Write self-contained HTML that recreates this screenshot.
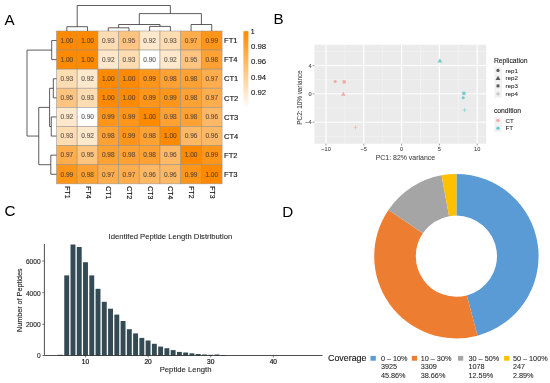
<!DOCTYPE html>
<html><head><meta charset="utf-8"><style>
html,body{margin:0;padding:0;background:#fff;}
svg{display:block;filter:blur(0.35px);font-family:"Liberation Sans", sans-serif;}
</style></head><body>
<svg width="550" height="383" viewBox="0 0 550 383">
<rect width="550" height="383" fill="#fff"/>
<rect x="56.50" y="31.00" width="20.70" height="19.10" fill="#ff8a00" stroke="#8c8c8c" stroke-width="0.8" stroke-opacity="0.6"/>
<rect x="77.20" y="31.00" width="20.70" height="19.10" fill="#ff8a00" stroke="#8c8c8c" stroke-width="0.8" stroke-opacity="0.6"/>
<rect x="97.90" y="31.00" width="20.70" height="19.10" fill="#ffdcb2" stroke="#8c8c8c" stroke-width="0.8" stroke-opacity="0.6"/>
<rect x="118.60" y="31.00" width="20.70" height="19.10" fill="#ffc580" stroke="#8c8c8c" stroke-width="0.8" stroke-opacity="0.6"/>
<rect x="139.30" y="31.00" width="20.70" height="19.10" fill="#ffe8cc" stroke="#8c8c8c" stroke-width="0.8" stroke-opacity="0.6"/>
<rect x="160.00" y="31.00" width="20.70" height="19.10" fill="#ffdcb2" stroke="#8c8c8c" stroke-width="0.8" stroke-opacity="0.6"/>
<rect x="180.70" y="31.00" width="20.70" height="19.10" fill="#ffad4d" stroke="#8c8c8c" stroke-width="0.8" stroke-opacity="0.6"/>
<rect x="201.40" y="31.00" width="20.70" height="19.10" fill="#ff961a" stroke="#8c8c8c" stroke-width="0.8" stroke-opacity="0.6"/>
<rect x="56.50" y="50.10" width="20.70" height="19.10" fill="#ff8a00" stroke="#8c8c8c" stroke-width="0.8" stroke-opacity="0.6"/>
<rect x="77.20" y="50.10" width="20.70" height="19.10" fill="#ff8a00" stroke="#8c8c8c" stroke-width="0.8" stroke-opacity="0.6"/>
<rect x="97.90" y="50.10" width="20.70" height="19.10" fill="#ffe8cc" stroke="#8c8c8c" stroke-width="0.8" stroke-opacity="0.6"/>
<rect x="118.60" y="50.10" width="20.70" height="19.10" fill="#ffdcb2" stroke="#8c8c8c" stroke-width="0.8" stroke-opacity="0.6"/>
<rect x="139.30" y="50.10" width="20.70" height="19.10" fill="#ffffff" stroke="#8c8c8c" stroke-width="0.8" stroke-opacity="0.6"/>
<rect x="160.00" y="50.10" width="20.70" height="19.10" fill="#ffe8cc" stroke="#8c8c8c" stroke-width="0.8" stroke-opacity="0.6"/>
<rect x="180.70" y="50.10" width="20.70" height="19.10" fill="#ffc580" stroke="#8c8c8c" stroke-width="0.8" stroke-opacity="0.6"/>
<rect x="201.40" y="50.10" width="20.70" height="19.10" fill="#ffa133" stroke="#8c8c8c" stroke-width="0.8" stroke-opacity="0.6"/>
<rect x="56.50" y="69.20" width="20.70" height="19.10" fill="#ffdcb2" stroke="#8c8c8c" stroke-width="0.8" stroke-opacity="0.6"/>
<rect x="77.20" y="69.20" width="20.70" height="19.10" fill="#ffe8cc" stroke="#8c8c8c" stroke-width="0.8" stroke-opacity="0.6"/>
<rect x="97.90" y="69.20" width="20.70" height="19.10" fill="#ff8a00" stroke="#8c8c8c" stroke-width="0.8" stroke-opacity="0.6"/>
<rect x="118.60" y="69.20" width="20.70" height="19.10" fill="#ff8a00" stroke="#8c8c8c" stroke-width="0.8" stroke-opacity="0.6"/>
<rect x="139.30" y="69.20" width="20.70" height="19.10" fill="#ff961a" stroke="#8c8c8c" stroke-width="0.8" stroke-opacity="0.6"/>
<rect x="160.00" y="69.20" width="20.70" height="19.10" fill="#ffa133" stroke="#8c8c8c" stroke-width="0.8" stroke-opacity="0.6"/>
<rect x="180.70" y="69.20" width="20.70" height="19.10" fill="#ffa133" stroke="#8c8c8c" stroke-width="0.8" stroke-opacity="0.6"/>
<rect x="201.40" y="69.20" width="20.70" height="19.10" fill="#ffad4d" stroke="#8c8c8c" stroke-width="0.8" stroke-opacity="0.6"/>
<rect x="56.50" y="88.30" width="20.70" height="19.10" fill="#ffc580" stroke="#8c8c8c" stroke-width="0.8" stroke-opacity="0.6"/>
<rect x="77.20" y="88.30" width="20.70" height="19.10" fill="#ffdcb2" stroke="#8c8c8c" stroke-width="0.8" stroke-opacity="0.6"/>
<rect x="97.90" y="88.30" width="20.70" height="19.10" fill="#ff8a00" stroke="#8c8c8c" stroke-width="0.8" stroke-opacity="0.6"/>
<rect x="118.60" y="88.30" width="20.70" height="19.10" fill="#ff8a00" stroke="#8c8c8c" stroke-width="0.8" stroke-opacity="0.6"/>
<rect x="139.30" y="88.30" width="20.70" height="19.10" fill="#ff961a" stroke="#8c8c8c" stroke-width="0.8" stroke-opacity="0.6"/>
<rect x="160.00" y="88.30" width="20.70" height="19.10" fill="#ff961a" stroke="#8c8c8c" stroke-width="0.8" stroke-opacity="0.6"/>
<rect x="180.70" y="88.30" width="20.70" height="19.10" fill="#ffa133" stroke="#8c8c8c" stroke-width="0.8" stroke-opacity="0.6"/>
<rect x="201.40" y="88.30" width="20.70" height="19.10" fill="#ffad4d" stroke="#8c8c8c" stroke-width="0.8" stroke-opacity="0.6"/>
<rect x="56.50" y="107.40" width="20.70" height="19.10" fill="#ffe8cc" stroke="#8c8c8c" stroke-width="0.8" stroke-opacity="0.6"/>
<rect x="77.20" y="107.40" width="20.70" height="19.10" fill="#ffffff" stroke="#8c8c8c" stroke-width="0.8" stroke-opacity="0.6"/>
<rect x="97.90" y="107.40" width="20.70" height="19.10" fill="#ff961a" stroke="#8c8c8c" stroke-width="0.8" stroke-opacity="0.6"/>
<rect x="118.60" y="107.40" width="20.70" height="19.10" fill="#ff961a" stroke="#8c8c8c" stroke-width="0.8" stroke-opacity="0.6"/>
<rect x="139.30" y="107.40" width="20.70" height="19.10" fill="#ff8a00" stroke="#8c8c8c" stroke-width="0.8" stroke-opacity="0.6"/>
<rect x="160.00" y="107.40" width="20.70" height="19.10" fill="#ffa133" stroke="#8c8c8c" stroke-width="0.8" stroke-opacity="0.6"/>
<rect x="180.70" y="107.40" width="20.70" height="19.10" fill="#ffa133" stroke="#8c8c8c" stroke-width="0.8" stroke-opacity="0.6"/>
<rect x="201.40" y="107.40" width="20.70" height="19.10" fill="#ffb966" stroke="#8c8c8c" stroke-width="0.8" stroke-opacity="0.6"/>
<rect x="56.50" y="126.50" width="20.70" height="19.10" fill="#ffdcb2" stroke="#8c8c8c" stroke-width="0.8" stroke-opacity="0.6"/>
<rect x="77.20" y="126.50" width="20.70" height="19.10" fill="#ffe8cc" stroke="#8c8c8c" stroke-width="0.8" stroke-opacity="0.6"/>
<rect x="97.90" y="126.50" width="20.70" height="19.10" fill="#ffa133" stroke="#8c8c8c" stroke-width="0.8" stroke-opacity="0.6"/>
<rect x="118.60" y="126.50" width="20.70" height="19.10" fill="#ff961a" stroke="#8c8c8c" stroke-width="0.8" stroke-opacity="0.6"/>
<rect x="139.30" y="126.50" width="20.70" height="19.10" fill="#ffa133" stroke="#8c8c8c" stroke-width="0.8" stroke-opacity="0.6"/>
<rect x="160.00" y="126.50" width="20.70" height="19.10" fill="#ff8a00" stroke="#8c8c8c" stroke-width="0.8" stroke-opacity="0.6"/>
<rect x="180.70" y="126.50" width="20.70" height="19.10" fill="#ffb966" stroke="#8c8c8c" stroke-width="0.8" stroke-opacity="0.6"/>
<rect x="201.40" y="126.50" width="20.70" height="19.10" fill="#ffb966" stroke="#8c8c8c" stroke-width="0.8" stroke-opacity="0.6"/>
<rect x="56.50" y="145.60" width="20.70" height="19.10" fill="#ffad4d" stroke="#8c8c8c" stroke-width="0.8" stroke-opacity="0.6"/>
<rect x="77.20" y="145.60" width="20.70" height="19.10" fill="#ffc580" stroke="#8c8c8c" stroke-width="0.8" stroke-opacity="0.6"/>
<rect x="97.90" y="145.60" width="20.70" height="19.10" fill="#ffa133" stroke="#8c8c8c" stroke-width="0.8" stroke-opacity="0.6"/>
<rect x="118.60" y="145.60" width="20.70" height="19.10" fill="#ffa133" stroke="#8c8c8c" stroke-width="0.8" stroke-opacity="0.6"/>
<rect x="139.30" y="145.60" width="20.70" height="19.10" fill="#ffa133" stroke="#8c8c8c" stroke-width="0.8" stroke-opacity="0.6"/>
<rect x="160.00" y="145.60" width="20.70" height="19.10" fill="#ffb966" stroke="#8c8c8c" stroke-width="0.8" stroke-opacity="0.6"/>
<rect x="180.70" y="145.60" width="20.70" height="19.10" fill="#ff8a00" stroke="#8c8c8c" stroke-width="0.8" stroke-opacity="0.6"/>
<rect x="201.40" y="145.60" width="20.70" height="19.10" fill="#ff961a" stroke="#8c8c8c" stroke-width="0.8" stroke-opacity="0.6"/>
<rect x="56.50" y="164.70" width="20.70" height="19.10" fill="#ff961a" stroke="#8c8c8c" stroke-width="0.8" stroke-opacity="0.6"/>
<rect x="77.20" y="164.70" width="20.70" height="19.10" fill="#ffa133" stroke="#8c8c8c" stroke-width="0.8" stroke-opacity="0.6"/>
<rect x="97.90" y="164.70" width="20.70" height="19.10" fill="#ffad4d" stroke="#8c8c8c" stroke-width="0.8" stroke-opacity="0.6"/>
<rect x="118.60" y="164.70" width="20.70" height="19.10" fill="#ffad4d" stroke="#8c8c8c" stroke-width="0.8" stroke-opacity="0.6"/>
<rect x="139.30" y="164.70" width="20.70" height="19.10" fill="#ffb966" stroke="#8c8c8c" stroke-width="0.8" stroke-opacity="0.6"/>
<rect x="160.00" y="164.70" width="20.70" height="19.10" fill="#ffb966" stroke="#8c8c8c" stroke-width="0.8" stroke-opacity="0.6"/>
<rect x="180.70" y="164.70" width="20.70" height="19.10" fill="#ff961a" stroke="#8c8c8c" stroke-width="0.8" stroke-opacity="0.6"/>
<rect x="201.40" y="164.70" width="20.70" height="19.10" fill="#ff8a00" stroke="#8c8c8c" stroke-width="0.8" stroke-opacity="0.6"/>
<text x="66.85" y="42.85" text-anchor="middle" font-size="6.5" fill="#333" fill-opacity="0.72" stroke="#333" stroke-opacity="0.72" stroke-width="0.15">1.00</text>
<text x="87.55" y="42.85" text-anchor="middle" font-size="6.5" fill="#333" fill-opacity="0.72" stroke="#333" stroke-opacity="0.72" stroke-width="0.15">1.00</text>
<text x="108.25" y="42.85" text-anchor="middle" font-size="6.5" fill="#333" fill-opacity="0.72" stroke="#333" stroke-opacity="0.72" stroke-width="0.15">0.93</text>
<text x="128.95" y="42.85" text-anchor="middle" font-size="6.5" fill="#333" fill-opacity="0.72" stroke="#333" stroke-opacity="0.72" stroke-width="0.15">0.95</text>
<text x="149.65" y="42.85" text-anchor="middle" font-size="6.5" fill="#333" fill-opacity="0.72" stroke="#333" stroke-opacity="0.72" stroke-width="0.15">0.92</text>
<text x="170.35" y="42.85" text-anchor="middle" font-size="6.5" fill="#333" fill-opacity="0.72" stroke="#333" stroke-opacity="0.72" stroke-width="0.15">0.93</text>
<text x="191.05" y="42.85" text-anchor="middle" font-size="6.5" fill="#333" fill-opacity="0.72" stroke="#333" stroke-opacity="0.72" stroke-width="0.15">0.97</text>
<text x="211.75" y="42.85" text-anchor="middle" font-size="6.5" fill="#333" fill-opacity="0.72" stroke="#333" stroke-opacity="0.72" stroke-width="0.15">0.99</text>
<text x="66.85" y="61.95" text-anchor="middle" font-size="6.5" fill="#333" fill-opacity="0.72" stroke="#333" stroke-opacity="0.72" stroke-width="0.15">1.00</text>
<text x="87.55" y="61.95" text-anchor="middle" font-size="6.5" fill="#333" fill-opacity="0.72" stroke="#333" stroke-opacity="0.72" stroke-width="0.15">1.00</text>
<text x="108.25" y="61.95" text-anchor="middle" font-size="6.5" fill="#333" fill-opacity="0.72" stroke="#333" stroke-opacity="0.72" stroke-width="0.15">0.92</text>
<text x="128.95" y="61.95" text-anchor="middle" font-size="6.5" fill="#333" fill-opacity="0.72" stroke="#333" stroke-opacity="0.72" stroke-width="0.15">0.93</text>
<text x="149.65" y="61.95" text-anchor="middle" font-size="6.5" fill="#333" fill-opacity="0.72" stroke="#333" stroke-opacity="0.72" stroke-width="0.15">0.90</text>
<text x="170.35" y="61.95" text-anchor="middle" font-size="6.5" fill="#333" fill-opacity="0.72" stroke="#333" stroke-opacity="0.72" stroke-width="0.15">0.92</text>
<text x="191.05" y="61.95" text-anchor="middle" font-size="6.5" fill="#333" fill-opacity="0.72" stroke="#333" stroke-opacity="0.72" stroke-width="0.15">0.95</text>
<text x="211.75" y="61.95" text-anchor="middle" font-size="6.5" fill="#333" fill-opacity="0.72" stroke="#333" stroke-opacity="0.72" stroke-width="0.15">0.98</text>
<text x="66.85" y="81.05" text-anchor="middle" font-size="6.5" fill="#333" fill-opacity="0.72" stroke="#333" stroke-opacity="0.72" stroke-width="0.15">0.93</text>
<text x="87.55" y="81.05" text-anchor="middle" font-size="6.5" fill="#333" fill-opacity="0.72" stroke="#333" stroke-opacity="0.72" stroke-width="0.15">0.92</text>
<text x="108.25" y="81.05" text-anchor="middle" font-size="6.5" fill="#333" fill-opacity="0.72" stroke="#333" stroke-opacity="0.72" stroke-width="0.15">1.00</text>
<text x="128.95" y="81.05" text-anchor="middle" font-size="6.5" fill="#333" fill-opacity="0.72" stroke="#333" stroke-opacity="0.72" stroke-width="0.15">1.00</text>
<text x="149.65" y="81.05" text-anchor="middle" font-size="6.5" fill="#333" fill-opacity="0.72" stroke="#333" stroke-opacity="0.72" stroke-width="0.15">0.99</text>
<text x="170.35" y="81.05" text-anchor="middle" font-size="6.5" fill="#333" fill-opacity="0.72" stroke="#333" stroke-opacity="0.72" stroke-width="0.15">0.98</text>
<text x="191.05" y="81.05" text-anchor="middle" font-size="6.5" fill="#333" fill-opacity="0.72" stroke="#333" stroke-opacity="0.72" stroke-width="0.15">0.98</text>
<text x="211.75" y="81.05" text-anchor="middle" font-size="6.5" fill="#333" fill-opacity="0.72" stroke="#333" stroke-opacity="0.72" stroke-width="0.15">0.97</text>
<text x="66.85" y="100.15" text-anchor="middle" font-size="6.5" fill="#333" fill-opacity="0.72" stroke="#333" stroke-opacity="0.72" stroke-width="0.15">0.95</text>
<text x="87.55" y="100.15" text-anchor="middle" font-size="6.5" fill="#333" fill-opacity="0.72" stroke="#333" stroke-opacity="0.72" stroke-width="0.15">0.93</text>
<text x="108.25" y="100.15" text-anchor="middle" font-size="6.5" fill="#333" fill-opacity="0.72" stroke="#333" stroke-opacity="0.72" stroke-width="0.15">1.00</text>
<text x="128.95" y="100.15" text-anchor="middle" font-size="6.5" fill="#333" fill-opacity="0.72" stroke="#333" stroke-opacity="0.72" stroke-width="0.15">1.00</text>
<text x="149.65" y="100.15" text-anchor="middle" font-size="6.5" fill="#333" fill-opacity="0.72" stroke="#333" stroke-opacity="0.72" stroke-width="0.15">0.99</text>
<text x="170.35" y="100.15" text-anchor="middle" font-size="6.5" fill="#333" fill-opacity="0.72" stroke="#333" stroke-opacity="0.72" stroke-width="0.15">0.99</text>
<text x="191.05" y="100.15" text-anchor="middle" font-size="6.5" fill="#333" fill-opacity="0.72" stroke="#333" stroke-opacity="0.72" stroke-width="0.15">0.98</text>
<text x="211.75" y="100.15" text-anchor="middle" font-size="6.5" fill="#333" fill-opacity="0.72" stroke="#333" stroke-opacity="0.72" stroke-width="0.15">0.97</text>
<text x="66.85" y="119.25" text-anchor="middle" font-size="6.5" fill="#333" fill-opacity="0.72" stroke="#333" stroke-opacity="0.72" stroke-width="0.15">0.92</text>
<text x="87.55" y="119.25" text-anchor="middle" font-size="6.5" fill="#333" fill-opacity="0.72" stroke="#333" stroke-opacity="0.72" stroke-width="0.15">0.90</text>
<text x="108.25" y="119.25" text-anchor="middle" font-size="6.5" fill="#333" fill-opacity="0.72" stroke="#333" stroke-opacity="0.72" stroke-width="0.15">0.99</text>
<text x="128.95" y="119.25" text-anchor="middle" font-size="6.5" fill="#333" fill-opacity="0.72" stroke="#333" stroke-opacity="0.72" stroke-width="0.15">0.99</text>
<text x="149.65" y="119.25" text-anchor="middle" font-size="6.5" fill="#333" fill-opacity="0.72" stroke="#333" stroke-opacity="0.72" stroke-width="0.15">1.00</text>
<text x="170.35" y="119.25" text-anchor="middle" font-size="6.5" fill="#333" fill-opacity="0.72" stroke="#333" stroke-opacity="0.72" stroke-width="0.15">0.98</text>
<text x="191.05" y="119.25" text-anchor="middle" font-size="6.5" fill="#333" fill-opacity="0.72" stroke="#333" stroke-opacity="0.72" stroke-width="0.15">0.98</text>
<text x="211.75" y="119.25" text-anchor="middle" font-size="6.5" fill="#333" fill-opacity="0.72" stroke="#333" stroke-opacity="0.72" stroke-width="0.15">0.96</text>
<text x="66.85" y="138.35" text-anchor="middle" font-size="6.5" fill="#333" fill-opacity="0.72" stroke="#333" stroke-opacity="0.72" stroke-width="0.15">0.93</text>
<text x="87.55" y="138.35" text-anchor="middle" font-size="6.5" fill="#333" fill-opacity="0.72" stroke="#333" stroke-opacity="0.72" stroke-width="0.15">0.92</text>
<text x="108.25" y="138.35" text-anchor="middle" font-size="6.5" fill="#333" fill-opacity="0.72" stroke="#333" stroke-opacity="0.72" stroke-width="0.15">0.98</text>
<text x="128.95" y="138.35" text-anchor="middle" font-size="6.5" fill="#333" fill-opacity="0.72" stroke="#333" stroke-opacity="0.72" stroke-width="0.15">0.99</text>
<text x="149.65" y="138.35" text-anchor="middle" font-size="6.5" fill="#333" fill-opacity="0.72" stroke="#333" stroke-opacity="0.72" stroke-width="0.15">0.98</text>
<text x="170.35" y="138.35" text-anchor="middle" font-size="6.5" fill="#333" fill-opacity="0.72" stroke="#333" stroke-opacity="0.72" stroke-width="0.15">1.00</text>
<text x="191.05" y="138.35" text-anchor="middle" font-size="6.5" fill="#333" fill-opacity="0.72" stroke="#333" stroke-opacity="0.72" stroke-width="0.15">0.96</text>
<text x="211.75" y="138.35" text-anchor="middle" font-size="6.5" fill="#333" fill-opacity="0.72" stroke="#333" stroke-opacity="0.72" stroke-width="0.15">0.96</text>
<text x="66.85" y="157.45" text-anchor="middle" font-size="6.5" fill="#333" fill-opacity="0.72" stroke="#333" stroke-opacity="0.72" stroke-width="0.15">0.97</text>
<text x="87.55" y="157.45" text-anchor="middle" font-size="6.5" fill="#333" fill-opacity="0.72" stroke="#333" stroke-opacity="0.72" stroke-width="0.15">0.95</text>
<text x="108.25" y="157.45" text-anchor="middle" font-size="6.5" fill="#333" fill-opacity="0.72" stroke="#333" stroke-opacity="0.72" stroke-width="0.15">0.98</text>
<text x="128.95" y="157.45" text-anchor="middle" font-size="6.5" fill="#333" fill-opacity="0.72" stroke="#333" stroke-opacity="0.72" stroke-width="0.15">0.98</text>
<text x="149.65" y="157.45" text-anchor="middle" font-size="6.5" fill="#333" fill-opacity="0.72" stroke="#333" stroke-opacity="0.72" stroke-width="0.15">0.98</text>
<text x="170.35" y="157.45" text-anchor="middle" font-size="6.5" fill="#333" fill-opacity="0.72" stroke="#333" stroke-opacity="0.72" stroke-width="0.15">0.96</text>
<text x="191.05" y="157.45" text-anchor="middle" font-size="6.5" fill="#333" fill-opacity="0.72" stroke="#333" stroke-opacity="0.72" stroke-width="0.15">1.00</text>
<text x="211.75" y="157.45" text-anchor="middle" font-size="6.5" fill="#333" fill-opacity="0.72" stroke="#333" stroke-opacity="0.72" stroke-width="0.15">0.99</text>
<text x="66.85" y="176.55" text-anchor="middle" font-size="6.5" fill="#333" fill-opacity="0.72" stroke="#333" stroke-opacity="0.72" stroke-width="0.15">0.99</text>
<text x="87.55" y="176.55" text-anchor="middle" font-size="6.5" fill="#333" fill-opacity="0.72" stroke="#333" stroke-opacity="0.72" stroke-width="0.15">0.98</text>
<text x="108.25" y="176.55" text-anchor="middle" font-size="6.5" fill="#333" fill-opacity="0.72" stroke="#333" stroke-opacity="0.72" stroke-width="0.15">0.97</text>
<text x="128.95" y="176.55" text-anchor="middle" font-size="6.5" fill="#333" fill-opacity="0.72" stroke="#333" stroke-opacity="0.72" stroke-width="0.15">0.97</text>
<text x="149.65" y="176.55" text-anchor="middle" font-size="6.5" fill="#333" fill-opacity="0.72" stroke="#333" stroke-opacity="0.72" stroke-width="0.15">0.96</text>
<text x="170.35" y="176.55" text-anchor="middle" font-size="6.5" fill="#333" fill-opacity="0.72" stroke="#333" stroke-opacity="0.72" stroke-width="0.15">0.96</text>
<text x="191.05" y="176.55" text-anchor="middle" font-size="6.5" fill="#333" fill-opacity="0.72" stroke="#333" stroke-opacity="0.72" stroke-width="0.15">0.99</text>
<text x="211.75" y="176.55" text-anchor="middle" font-size="6.5" fill="#333" fill-opacity="0.72" stroke="#333" stroke-opacity="0.72" stroke-width="0.15">1.00</text>
<text x="224.0" y="43.25" font-size="7.6" fill="#111" stroke="#111" stroke-width="0.14">FT1</text>
<text x="224.0" y="62.35" font-size="7.6" fill="#111" stroke="#111" stroke-width="0.14">FT4</text>
<text x="224.0" y="81.45" font-size="7.6" fill="#111" stroke="#111" stroke-width="0.14">CT1</text>
<text x="224.0" y="100.55" font-size="7.6" fill="#111" stroke="#111" stroke-width="0.14">CT2</text>
<text x="224.0" y="119.65" font-size="7.6" fill="#111" stroke="#111" stroke-width="0.14">CT3</text>
<text x="224.0" y="138.75" font-size="7.6" fill="#111" stroke="#111" stroke-width="0.14">CT4</text>
<text x="224.0" y="157.85" font-size="7.6" fill="#111" stroke="#111" stroke-width="0.14">FT2</text>
<text x="224.0" y="176.95" font-size="7.6" fill="#111" stroke="#111" stroke-width="0.14">FT3</text>
<text transform="translate(64.85,186.2) rotate(90) scale(1,1.1)" font-size="6.9" fill="#111" stroke="#111" stroke-width="0.14">FT1</text>
<text transform="translate(85.55,186.2) rotate(90) scale(1,1.1)" font-size="6.9" fill="#111" stroke="#111" stroke-width="0.14">FT4</text>
<text transform="translate(106.25,186.2) rotate(90) scale(1,1.1)" font-size="6.9" fill="#111" stroke="#111" stroke-width="0.14">CT1</text>
<text transform="translate(126.95,186.2) rotate(90) scale(1,1.1)" font-size="6.9" fill="#111" stroke="#111" stroke-width="0.14">CT2</text>
<text transform="translate(147.65,186.2) rotate(90) scale(1,1.1)" font-size="6.9" fill="#111" stroke="#111" stroke-width="0.14">CT3</text>
<text transform="translate(168.35,186.2) rotate(90) scale(1,1.1)" font-size="6.9" fill="#111" stroke="#111" stroke-width="0.14">CT4</text>
<text transform="translate(189.05,186.2) rotate(90) scale(1,1.1)" font-size="6.9" fill="#111" stroke="#111" stroke-width="0.14">FT2</text>
<text transform="translate(209.75,186.2) rotate(90) scale(1,1.1)" font-size="6.9" fill="#111" stroke="#111" stroke-width="0.14">FT3</text>
<path d="M66.85 31.00L66.85 26.70M66.85 26.70L87.55 26.70M87.55 26.70L87.55 31.00M108.25 31.00L108.25 27.80M108.25 27.80L128.95 27.80M128.95 27.80L128.95 31.00M149.65 31.00L149.65 26.40M149.65 26.40L170.35 26.40M170.35 26.40L170.35 31.00M118.60 27.80L118.60 24.50M118.60 24.50L160.00 24.50M160.00 24.50L160.00 26.40M191.05 31.00L191.05 24.50M191.05 24.50L211.75 24.50M211.75 24.50L211.75 31.00M139.30 24.50L139.30 13.60M139.30 13.60L201.40 13.60M201.40 13.60L201.40 24.50M77.20 26.70L77.20 5.50M77.20 5.50L170.35 5.50M170.35 5.50L170.35 13.60" stroke="#333" stroke-width="0.8" fill="none"/>
<path d="M56.50 40.55L51.70 40.55M51.70 40.55L51.70 59.65M51.70 59.65L56.50 59.65M56.50 78.75L53.30 78.75M53.30 78.75L53.30 97.85M53.30 97.85L56.50 97.85M56.50 116.95L51.25 116.95M51.25 116.95L51.25 136.05M51.25 136.05L56.50 136.05M53.30 88.30L49.60 88.30M49.60 88.30L49.60 126.50M49.60 126.50L51.25 126.50M56.50 155.15L50.80 155.15M50.80 155.15L50.80 174.25M50.80 174.25L56.50 174.25M49.60 107.40L38.75 107.40M38.75 107.40L38.75 164.70M38.75 164.70L50.80 164.70M51.70 50.10L27.00 50.10M27.00 50.10L27.00 136.05M27.00 136.05L38.75 136.05" stroke="#333" stroke-width="0.8" fill="none"/>
<defs><linearGradient id="lg" x1="0" y1="0" x2="0" y2="1"><stop offset="0" stop-color="#ff8a00"/><stop offset="1" stop-color="#ffffff"/></linearGradient></defs>
<rect x="243.4" y="31.2" width="5" height="77" fill="url(#lg)"/>
<text x="250.5" y="33.50" font-size="7.8" fill="#111" stroke="#111" stroke-width="0.08">1</text>
<text x="250.9" y="48.90" font-size="7.8" fill="#111" stroke="#111" stroke-width="0.08">0.98</text>
<text x="250.9" y="64.20" font-size="7.8" fill="#111" stroke="#111" stroke-width="0.08">0.96</text>
<text x="250.9" y="80.00" font-size="7.8" fill="#111" stroke="#111" stroke-width="0.08">0.94</text>
<text x="250.9" y="95.10" font-size="7.8" fill="#111" stroke="#111" stroke-width="0.08">0.92</text>
<text x="4.4" y="24.7" font-size="15.2" fill="#000" stroke="#000" stroke-width="0.0">A</text>
<text x="273.4" y="24.4" font-size="15.2" fill="#000" stroke="#000" stroke-width="0.0">B</text>
<text x="4.6" y="216.3" font-size="15.2" fill="#000" stroke="#000" stroke-width="0.0">C</text>
<text x="282.3" y="216.6" font-size="15.2" fill="#000" stroke="#000" stroke-width="0.0">D</text>
<rect x="314.4" y="44.7" width="171.80" height="99.00" fill="#ebebeb"/>
<line x1="344.90" y1="44.7" x2="344.90" y2="143.7" stroke="#f7f7f7" stroke-width="0.5"/>
<line x1="382.70" y1="44.7" x2="382.70" y2="143.7" stroke="#f7f7f7" stroke-width="0.5"/>
<line x1="420.50" y1="44.7" x2="420.50" y2="143.7" stroke="#f7f7f7" stroke-width="0.5"/>
<line x1="458.30" y1="44.7" x2="458.30" y2="143.7" stroke="#f7f7f7" stroke-width="0.5"/>
<line x1="314.4" y1="136.32" x2="486.2" y2="136.32" stroke="#f7f7f7" stroke-width="0.5"/>
<line x1="314.4" y1="108.02" x2="486.2" y2="108.02" stroke="#f7f7f7" stroke-width="0.5"/>
<line x1="314.4" y1="79.72" x2="486.2" y2="79.72" stroke="#f7f7f7" stroke-width="0.5"/>
<line x1="314.4" y1="51.42" x2="486.2" y2="51.42" stroke="#f7f7f7" stroke-width="0.5"/>
<line x1="326.00" y1="44.7" x2="326.00" y2="143.7" stroke="#fff" stroke-width="1.2"/>
<line x1="363.80" y1="44.7" x2="363.80" y2="143.7" stroke="#fff" stroke-width="1.2"/>
<line x1="401.60" y1="44.7" x2="401.60" y2="143.7" stroke="#fff" stroke-width="1.2"/>
<line x1="439.40" y1="44.7" x2="439.40" y2="143.7" stroke="#fff" stroke-width="1.2"/>
<line x1="477.20" y1="44.7" x2="477.20" y2="143.7" stroke="#fff" stroke-width="1.2"/>
<line x1="314.4" y1="122.17" x2="486.2" y2="122.17" stroke="#fff" stroke-width="1"/>
<line x1="314.4" y1="93.87" x2="486.2" y2="93.87" stroke="#fff" stroke-width="1"/>
<line x1="314.4" y1="65.57" x2="486.2" y2="65.57" stroke="#fff" stroke-width="1"/>
<line x1="326.00" y1="143.7" x2="326.00" y2="145.5" stroke="#333" stroke-width="0.5"/>
<text x="326.00" y="150.60" text-anchor="middle" font-size="5.6" fill="#4d4d4d" stroke="#4d4d4d" stroke-width="0.1">−10</text>
<line x1="363.80" y1="143.7" x2="363.80" y2="145.5" stroke="#333" stroke-width="0.5"/>
<text x="363.80" y="150.60" text-anchor="middle" font-size="5.6" fill="#4d4d4d" stroke="#4d4d4d" stroke-width="0.1">−5</text>
<line x1="401.60" y1="143.7" x2="401.60" y2="145.5" stroke="#333" stroke-width="0.5"/>
<text x="401.60" y="150.60" text-anchor="middle" font-size="5.6" fill="#4d4d4d" stroke="#4d4d4d" stroke-width="0.1">0</text>
<line x1="439.40" y1="143.7" x2="439.40" y2="145.5" stroke="#333" stroke-width="0.5"/>
<text x="439.40" y="150.60" text-anchor="middle" font-size="5.6" fill="#4d4d4d" stroke="#4d4d4d" stroke-width="0.1">5</text>
<line x1="477.20" y1="143.7" x2="477.20" y2="145.5" stroke="#333" stroke-width="0.5"/>
<text x="477.20" y="150.60" text-anchor="middle" font-size="5.6" fill="#4d4d4d" stroke="#4d4d4d" stroke-width="0.1">10</text>
<line x1="312.59999999999997" y1="122.17" x2="314.4" y2="122.17" stroke="#333" stroke-width="0.5"/>
<text x="311.60" y="124.17" text-anchor="end" font-size="5.6" fill="#4d4d4d" stroke="#4d4d4d" stroke-width="0.1">−4</text>
<line x1="312.59999999999997" y1="93.87" x2="314.4" y2="93.87" stroke="#333" stroke-width="0.5"/>
<text x="311.60" y="95.87" text-anchor="end" font-size="5.6" fill="#4d4d4d" stroke="#4d4d4d" stroke-width="0.1">0</text>
<line x1="312.59999999999997" y1="65.57" x2="314.4" y2="65.57" stroke="#333" stroke-width="0.5"/>
<text x="311.60" y="67.57" text-anchor="end" font-size="5.6" fill="#4d4d4d" stroke="#4d4d4d" stroke-width="0.1">4</text>
<text transform="translate(405.4,159.6) scale(1.087,1)" text-anchor="middle" font-size="6.4" fill="#3a3a3a" stroke="#3a3a3a" stroke-width="0.04">PC1: 82% variance</text>
<text transform="translate(302.4,97.5) rotate(-90) scale(1,1.087)" text-anchor="middle" font-size="6.35" fill="#3a3a3a" stroke="#3a3a3a" stroke-width="0.04">PC2: 10% variance</text>
<circle cx="335.20" cy="81.50" r="1.55" fill="#f2a8a3"/>
<rect x="342.60" y="80.30" width="3.20" height="3.20" fill="#f2a8a3"/>
<path d="M343.30 91.70L345.60 95.72L341.00 95.72Z" fill="#f2a8a3"/>
<path d="M353.50 127.30H357.50M355.50 125.30V129.30" stroke="#f2a8a3" stroke-width="0.7" opacity="0.8"/>
<path d="M439.90 58.40L442.20 62.43L437.60 62.43Z" fill="#6acdc9"/>
<rect x="462.30" y="91.70" width="3.20" height="3.20" fill="#6acdc9"/>
<circle cx="463.20" cy="97.80" r="1.55" fill="#6acdc9"/>
<path d="M462.60 110.00H466.60M464.60 108.00V112.00" stroke="#6acdc9" stroke-width="0.7" opacity="0.8"/>
<text x="493.9" y="62.5" font-size="6.8" fill="#222" stroke="#222" stroke-width="0.1">Replication</text>
<rect x="494.3" y="66.70" width="7.5" height="7.5" fill="#f2f2f2"/>
<circle cx="498.00" cy="70.40" r="1.63" fill="#5a5a5a"/>
<text x="505.6" y="72.50" font-size="6.2" fill="#222" stroke="#222" stroke-width="0.05">rep1</text>
<rect x="494.3" y="74.50" width="7.5" height="7.5" fill="#f2f2f2"/>
<path d="M498.00 75.78L500.42 80.01L495.58 80.01Z" fill="#5a5a5a"/>
<text x="505.6" y="80.30" font-size="6.2" fill="#222" stroke="#222" stroke-width="0.05">rep2</text>
<rect x="494.3" y="82.20" width="7.5" height="7.5" fill="#f2f2f2"/>
<rect x="496.56" y="84.46" width="2.88" height="2.88" fill="#5a5a5a"/>
<text x="505.6" y="88.00" font-size="6.2" fill="#222" stroke="#222" stroke-width="0.05">rep3</text>
<rect x="494.3" y="90.20" width="7.5" height="7.5" fill="#f2f2f2"/>
<path d="M496.00 93.90H500.00M498.00 91.90V95.90" stroke="#9a9a9a" stroke-width="0.7" opacity="0.8"/>
<text x="505.6" y="96.00" font-size="6.2" fill="#222" stroke="#222" stroke-width="0.05">rep4</text>
<text x="493.9" y="113.0" font-size="6.8" fill="#222" stroke="#222" stroke-width="0.1">condition</text>
<rect x="494.3" y="116.70" width="7.5" height="7.5" fill="#f2f2f2"/>
<circle cx="498.00" cy="120.40" r="1.71" fill="#f2a8a3"/>
<text x="505.6" y="122.50" font-size="6.2" fill="#222" stroke="#222" stroke-width="0.05">CT</text>
<rect x="494.3" y="124.50" width="7.5" height="7.5" fill="#f2f2f2"/>
<circle cx="498.00" cy="128.20" r="1.71" fill="#6acdc9"/>
<text x="505.6" y="130.30" font-size="6.2" fill="#222" stroke="#222" stroke-width="0.05">FT</text>
<text x="170.4" y="239.0" text-anchor="middle" font-size="7.68" fill="#222" stroke="#222" stroke-width="0.06">Identifed Peptide Length Distribution</text>
<rect x="64.27" y="275.40" width="4.9" height="80.10" fill="#344a55"/>
<rect x="70.53" y="244.50" width="4.9" height="111.00" fill="#344a55"/>
<rect x="76.79" y="247.00" width="4.9" height="108.50" fill="#344a55"/>
<rect x="83.05" y="262.20" width="4.9" height="93.30" fill="#344a55"/>
<rect x="89.31" y="275.40" width="4.9" height="80.10" fill="#344a55"/>
<rect x="95.57" y="288.80" width="4.9" height="66.70" fill="#344a55"/>
<rect x="101.83" y="301.80" width="4.9" height="53.70" fill="#344a55"/>
<rect x="108.09" y="308.70" width="4.9" height="46.80" fill="#344a55"/>
<rect x="114.35" y="314.60" width="4.9" height="40.90" fill="#344a55"/>
<rect x="120.61" y="321.00" width="4.9" height="34.50" fill="#344a55"/>
<rect x="126.87" y="329.20" width="4.9" height="26.30" fill="#344a55"/>
<rect x="133.13" y="333.40" width="4.9" height="22.10" fill="#344a55"/>
<rect x="139.39" y="337.90" width="4.9" height="17.60" fill="#344a55"/>
<rect x="145.65" y="340.50" width="4.9" height="15.00" fill="#344a55"/>
<rect x="151.91" y="343.80" width="4.9" height="11.70" fill="#344a55"/>
<rect x="158.17" y="346.60" width="4.9" height="8.90" fill="#344a55"/>
<rect x="164.43" y="348.20" width="4.9" height="7.30" fill="#344a55"/>
<rect x="170.69" y="350.10" width="4.9" height="5.40" fill="#344a55"/>
<rect x="176.95" y="351.90" width="4.9" height="3.60" fill="#344a55"/>
<rect x="183.21" y="352.50" width="4.9" height="3.00" fill="#344a55"/>
<rect x="189.47" y="353.30" width="4.9" height="2.20" fill="#344a55"/>
<rect x="195.73" y="354.00" width="4.9" height="1.50" fill="#344a55"/>
<rect x="201.99" y="354.50" width="4.9" height="1.00" fill="#344a55"/>
<rect x="208.25" y="354.80" width="4.9" height="0.70" fill="#344a55"/>
<rect x="214.51" y="354.50" width="4.9" height="1.00" fill="#344a55"/>
<rect x="220.77" y="355.00" width="4.9" height="0.50" fill="#344a55"/>
<rect x="58.01" y="354.80" width="4.9" height="0.70" fill="#344a55"/>
<line x1="44.4" y1="244" x2="44.4" y2="355.5" stroke="#222" stroke-width="0.8"/>
<line x1="44.4" y1="355.5" x2="322.5" y2="355.5" stroke="#222" stroke-width="0.8"/>
<line x1="42.4" y1="355.5" x2="44.4" y2="355.5" stroke="#222" stroke-width="0.6"/>
<text x="40.6" y="358.30" text-anchor="end" font-size="6.6" fill="#222" stroke="#222" stroke-width="0.12">0</text>
<line x1="42.4" y1="324.2" x2="44.4" y2="324.2" stroke="#222" stroke-width="0.6"/>
<text x="40.6" y="327.00" text-anchor="end" font-size="6.6" fill="#222" stroke="#222" stroke-width="0.12">2000</text>
<line x1="42.4" y1="292.7" x2="44.4" y2="292.7" stroke="#222" stroke-width="0.6"/>
<text x="40.6" y="295.50" text-anchor="end" font-size="6.6" fill="#222" stroke="#222" stroke-width="0.12">4000</text>
<line x1="42.4" y1="261.0" x2="44.4" y2="261.0" stroke="#222" stroke-width="0.6"/>
<text x="40.6" y="263.80" text-anchor="end" font-size="6.6" fill="#222" stroke="#222" stroke-width="0.12">6000</text>
<line x1="85.50" y1="355.5" x2="85.50" y2="357.5" stroke="#222" stroke-width="0.6"/>
<text x="85.50" y="364.0" text-anchor="middle" font-size="6.6" fill="#222" stroke="#222" stroke-width="0.22">10</text>
<line x1="148.10" y1="355.5" x2="148.10" y2="357.5" stroke="#222" stroke-width="0.6"/>
<text x="148.10" y="364.0" text-anchor="middle" font-size="6.6" fill="#222" stroke="#222" stroke-width="0.22">20</text>
<line x1="210.70" y1="355.5" x2="210.70" y2="357.5" stroke="#222" stroke-width="0.6"/>
<text x="210.70" y="364.0" text-anchor="middle" font-size="6.6" fill="#222" stroke="#222" stroke-width="0.22">30</text>
<line x1="273.30" y1="355.5" x2="273.30" y2="357.5" stroke="#222" stroke-width="0.6"/>
<text x="273.30" y="364.0" text-anchor="middle" font-size="6.6" fill="#222" stroke="#222" stroke-width="0.22">40</text>
<text x="185.6" y="371.8" text-anchor="middle" font-size="7.7" fill="#222" stroke="#222" stroke-width="0.08">Peptide Length</text>
<text transform="translate(22.1,300.2) rotate(-90) scale(1,1.08)" text-anchor="middle" font-size="7.2" fill="#222" stroke="#222" stroke-width="0.12">Number of Peptides</text>
<path d="M456.40 174.00A82.2 82.2 0 0 1 477.54 335.63L466.84 295.43A40.6 40.6 0 0 0 456.40 215.60Z" fill="#5b9bd5"/>
<path d="M477.54 335.63A82.2 82.2 0 0 1 388.47 209.91L422.85 233.34A40.6 40.6 0 0 0 466.84 295.43Z" fill="#ed7d31"/>
<path d="M388.47 209.91A82.2 82.2 0 0 1 441.56 175.35L449.07 216.27A40.6 40.6 0 0 0 422.85 233.34Z" fill="#a5a5a5"/>
<path d="M441.56 175.35A82.2 82.2 0 0 1 456.40 174.00L456.40 215.60A40.6 40.6 0 0 0 449.07 216.27Z" fill="#ffc000"/>
<text x="328.0" y="360.8" font-size="8.9" fill="#111" stroke="#111" stroke-width="0.1">Coverage</text>
<rect x="370.5" y="355.9" width="5.3" height="4.8" fill="#5b9bd5"/>
<text transform="translate(380.90,360.70) scale(1.07,1)" font-size="6.8" fill="#2a2a2a" stroke="#2a2a2a" stroke-width="0.08">0 – 10%</text>
<text transform="translate(380.90,369.30) scale(1.07,1)" font-size="6.8" fill="#2a2a2a" stroke="#2a2a2a" stroke-width="0.08">3925</text>
<text transform="translate(380.90,377.90) scale(1.07,1)" font-size="6.8" fill="#2a2a2a" stroke="#2a2a2a" stroke-width="0.08">45.86%</text>
<rect x="411.8" y="355.9" width="5.3" height="4.8" fill="#ed7d31"/>
<text transform="translate(420.70,360.70) scale(1.07,1)" font-size="6.8" fill="#2a2a2a" stroke="#2a2a2a" stroke-width="0.08">10 – 30%</text>
<text transform="translate(420.70,369.30) scale(1.07,1)" font-size="6.8" fill="#2a2a2a" stroke="#2a2a2a" stroke-width="0.08">3309</text>
<text transform="translate(420.70,377.90) scale(1.07,1)" font-size="6.8" fill="#2a2a2a" stroke="#2a2a2a" stroke-width="0.08">38.66%</text>
<rect x="457.9" y="355.9" width="5.3" height="4.8" fill="#a5a5a5"/>
<text transform="translate(468.50,360.70) scale(1.07,1)" font-size="6.8" fill="#2a2a2a" stroke="#2a2a2a" stroke-width="0.08">30 – 50%</text>
<text transform="translate(468.50,369.30) scale(1.07,1)" font-size="6.8" fill="#2a2a2a" stroke="#2a2a2a" stroke-width="0.08">1078</text>
<text transform="translate(468.50,377.90) scale(1.07,1)" font-size="6.8" fill="#2a2a2a" stroke="#2a2a2a" stroke-width="0.08">12.59%</text>
<rect x="504.1" y="355.9" width="5.3" height="4.8" fill="#ffc000"/>
<text transform="translate(512.90,360.70) scale(1.07,1)" font-size="6.8" fill="#2a2a2a" stroke="#2a2a2a" stroke-width="0.08">50 – 100%</text>
<text transform="translate(512.90,369.30) scale(1.07,1)" font-size="6.8" fill="#2a2a2a" stroke="#2a2a2a" stroke-width="0.08">247</text>
<text transform="translate(512.90,377.90) scale(1.07,1)" font-size="6.8" fill="#2a2a2a" stroke="#2a2a2a" stroke-width="0.08">2.89%</text>
</svg></body></html>
